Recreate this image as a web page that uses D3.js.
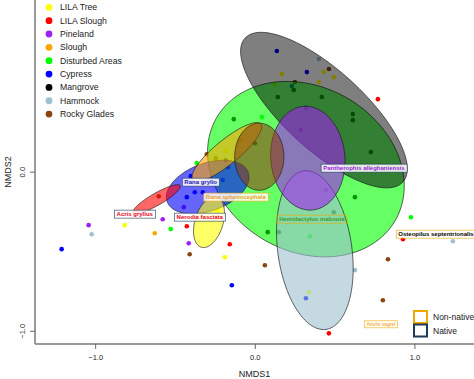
<!DOCTYPE html>
<html><head><meta charset="utf-8">
<script src="https://cdn.jsdelivr.net/npm/d3@7"></script>
<style>body{margin:0;background:#fff}svg{display:block}</style>
</head><body>
<svg id="c" width="474" height="379"></svg>
<script>
// ---- data ----
const groups = ["LILA Tree","LILA Slough","Pineland","Slough","Disturbed Areas","Cypress","Mangrove","Hammock","Rocky Glades"];
const groupColors = ["#FFFF00","#FF0000","#A020F0","#FFA500","#00FF00","#0000FF","#000000","#9DBFCE","#8B4513"];

const ptsLILATree = [[-0.818,-0.333],[-0.191,-0.535],[-0.235,-0.239],[0.335,-0.755],[0.166,0.616],[0.429,0.629],[0.492,0.597],[0.122,0.553],[0.398,0.566],[-0.185,0.132]];
const ptsLILASlough = [[-0.429,-0.340],[-0.160,-0.453],[0.461,-1.013],[0.925,-0.421],[0.768,0.459]];
const ptsPineland = [[-1.044,-0.333],[-0.580,-0.296],[-0.417,-0.447],[-0.448,-0.220],[0.317,0.403],[0.285,0.264],[0.442,-0.113]];
const ptsSlough = [[-0.630,-0.384],[-0.091,0.201]];
const ptsDisturbed = [[-0.367,0.057],[-0.530,-0.358],[0.975,-0.283],[0.041,0.346],[0.342,-0.403]];
const ptsCypress = [[-1.213,-0.484],[-0.147,-0.711],[0.317,-0.792],[-0.404,-0.025],[-0.379,-0.126],[-0.429,-0.157],[-0.329,-0.126],[-0.172,0.031],[-0.204,-0.050],[0.135,0.761],[0.323,0.629],[0.229,0.541]];
const ptsMangrove = [[-0.135,0.333],[0.078,-0.377],[0.147,-0.377],[0.492,-0.252],[0.624,-0.157],[-0.003,0.182],[0.241,0.516],[0.141,0.472],[0.417,0.472],[0.611,0.365],[0.611,0.327],[0.724,0.126],[-0.185,0.075]];
const ptsHammock = [[-1.025,-0.390],[1.238,-0.434],[0.624,-0.616],[0.398,0.711]];
const ptsRocky = [[-0.304,0.113],[-0.411,-0.516],[0.060,-0.585],[0.831,-0.547],[0.799,-0.805],[0.461,0.648],[0.248,0.566],[-0.605,-0.151],[-0.248,0.088]];
const groupPoints = [ptsLILATree,ptsLILASlough,ptsPineland,ptsSlough,ptsDisturbed,ptsCypress,ptsMangrove,ptsHammock,ptsRocky];

// ellipse parameters per group (data units, angle in degrees)
const ellCx    = [-0.290,-0.618, 0.329,-0.179, 0.317,-0.298, 0.430, 0.373, 0.025];
const ellCy    = [-0.314,-0.170, 0.088, 0.126, 0.019,-0.094, 0.390,-0.490, 0.097];
const ellA     = [ 0.165, 0.170, 0.327, 0.277, 0.646, 0.270, 0.670, 0.503, 0.211];
const ellB     = [ 0.088, 0.038, 0.232, 0.076, 0.516, 0.150, 0.250, 0.232, 0.154];
const ellAngle = [ 73,    30,    95,    39.5, -30,    20,   -42.5,  98,    90];

const speciesNames = ["Acris gryllus","Rana grylio","Rana sphenocephala","Nerodia fasciata","Pantherophis alleghaniensis","Hemidactylus mabouia","Osteopilus septentrionalis","Anolis sagrei"];
const speciesX = [-0.755,-0.342,-0.122,-0.348,0.680,0.354,1.132,0.787];
const speciesY = [-0.264,-0.063,-0.157,-0.283,0.025,-0.296,-0.390,-0.956];
const speciesStatus = ["Native","Native","Non-native","Native","Native","Non-native","Non-native","Non-native"];

const xTicks = [-1,0,1];
const yTicks = [-1,0];
const statusNames = ["Non-native","Native"];

// ---- styles ----
const drawOrder = [4,6,7,5,1,0,3,2,8];
const speciesTextColor = ["#e8001c","#1b1bb0","#f0a020","#e8001c","#9a1fd8","#3f9a2f","#000000","#f0b040"];
const speciesBg = [1,1,1,1,1,0,1,1];
const speciesFont = [6,6,6,6,6,6,6,4.6];
const statusColors = {"Non-native":"#F0A800","Native":"#1F3A5A"};

const svg = d3.select("#c");
const x = d3.scaleLinear().domain([-1.38,1.37]).range([35,474]);
const y = d3.scaleLinear().domain([-1.08,1.082]).range([344,0]);

// points (under ellipses)
groupPoints.forEach((pts,gi)=>{
  svg.append("g").selectAll("circle").data(pts).join("circle")
    .attr("cx",d=>x(d[0])).attr("cy",d=>y(d[1])).attr("r",2.3)
    .attr("fill",groupColors[gi]);
});

// ellipses
const line = d3.line().curve(d3.curveLinearClosed);
drawOrder.forEach(i=>{
  const th = ellAngle[i]*Math.PI/180;
  const ptsE = d3.range(0,360,2).map(t=>{
    const r = t*Math.PI/180;
    const ex = ellCx[i] + ellA[i]*Math.cos(r)*Math.cos(th) - ellB[i]*Math.sin(r)*Math.sin(th);
    const ey = ellCy[i] + ellA[i]*Math.cos(r)*Math.sin(th) + ellB[i]*Math.sin(r)*Math.cos(th);
    return [x(ex),y(ey)];
  });
  svg.append("path").attr("d",line(ptsE))
    .attr("fill",groupColors[i]).attr("fill-opacity",i===6?0.5:0.6)
    .attr("stroke","#1a1a1a").attr("stroke-opacity",0.85).attr("stroke-width",0.8);
});

// axes
svg.append("line").attr("x1",35).attr("x2",35).attr("y1",0).attr("y2",344)
  .attr("stroke","#9a9a9a").attr("stroke-width",2);
svg.append("line").attr("x1",35).attr("x2",474).attr("y1",344).attr("y2",344)
  .attr("stroke","#9a9a9a").attr("stroke-width",2);
const fmt = d3.format(".1f");
xTicks.forEach(t=>{
  svg.append("line").attr("x1",x(t)).attr("x2",x(t)).attr("y1",344).attr("y2",349)
    .attr("stroke","#666").attr("stroke-width",1);
  svg.append("text").attr("x",x(t)).attr("y",360).attr("text-anchor","middle")
    .attr("font-family","Liberation Sans, Arial, sans-serif").attr("font-size",7.5).attr("fill","#222")
    .text(fmt(t).replace("-","\u2212"));
});
yTicks.forEach(t=>{
  svg.append("line").attr("x1",30).attr("x2",35).attr("y1",y(t)).attr("y2",y(t))
    .attr("stroke","#666").attr("stroke-width",1);
  svg.append("text").attr("transform",`translate(24.5,${y(t)}) rotate(-90)`).attr("text-anchor","middle")
    .attr("font-family","Liberation Sans, Arial, sans-serif").attr("font-size",7.5).attr("fill","#222")
    .text(fmt(t).replace("-","\u2212"));
});
svg.append("text").attr("x",254.5).attr("y",377).attr("text-anchor","middle")
  .attr("font-family","Liberation Sans, Arial, sans-serif").attr("font-size",9).attr("fill","#222").text("NMDS1");
svg.append("text").attr("transform",`translate(10.5,172) rotate(-90)`).attr("text-anchor","middle")
  .attr("font-family","Liberation Sans, Arial, sans-serif").attr("font-size",9).attr("fill","#222").text("NMDS2");

// species labels
speciesNames.forEach((s,i)=>{
  const g = svg.append("g");
  const t = g.append("text").attr("x",x(speciesX[i])).attr("y",y(speciesY[i]))
    .attr("text-anchor","middle").attr("dominant-baseline","central")
    .attr("font-family","Liberation Sans Narrow, Arial Narrow, Liberation Sans, sans-serif")
    .attr("font-weight","bold").attr("font-size",speciesFont[i]).attr("fill",speciesTextColor[i]).text(s);
  const bb = t.node().getBBox();
  g.insert("rect","text").attr("x",bb.x-2).attr("y",bb.y-1).attr("width",bb.width+4).attr("height",bb.height+2)
    .attr("fill","#fff").attr("fill-opacity",speciesBg[i]?0.85:0)
    .attr("stroke",statusColors[speciesStatus[i]]).attr("stroke-opacity",0.75).attr("stroke-width",0.8);
});

// group legend
const lg = svg.append("g");
groups.forEach((g,i)=>{
  const yy = 7.3 + i*13.35;
  lg.append("circle").attr("cx",49).attr("cy",yy).attr("r",3.4).attr("fill",groupColors[i]);
  lg.append("text").attr("x",60).attr("y",yy).attr("dominant-baseline","central")
    .attr("font-family","Liberation Sans, Arial, sans-serif").attr("font-size",8.7).attr("fill","#222").text(g);
});

// status legend
statusNames.forEach((s,i)=>{
  const yy = 317 + i*13.5;
  svg.append("rect").attr("x",414).attr("y",yy-6).attr("width",13).attr("height",12)
    .attr("fill","none").attr("stroke",statusColors[s]).attr("stroke-width",2);
  svg.append("text").attr("x",433).attr("y",yy).attr("dominant-baseline","central")
    .attr("font-family","Liberation Sans, Arial, sans-serif").attr("font-size",8.5).attr("fill","#222").text(s);
});
</script>
</body></html>
